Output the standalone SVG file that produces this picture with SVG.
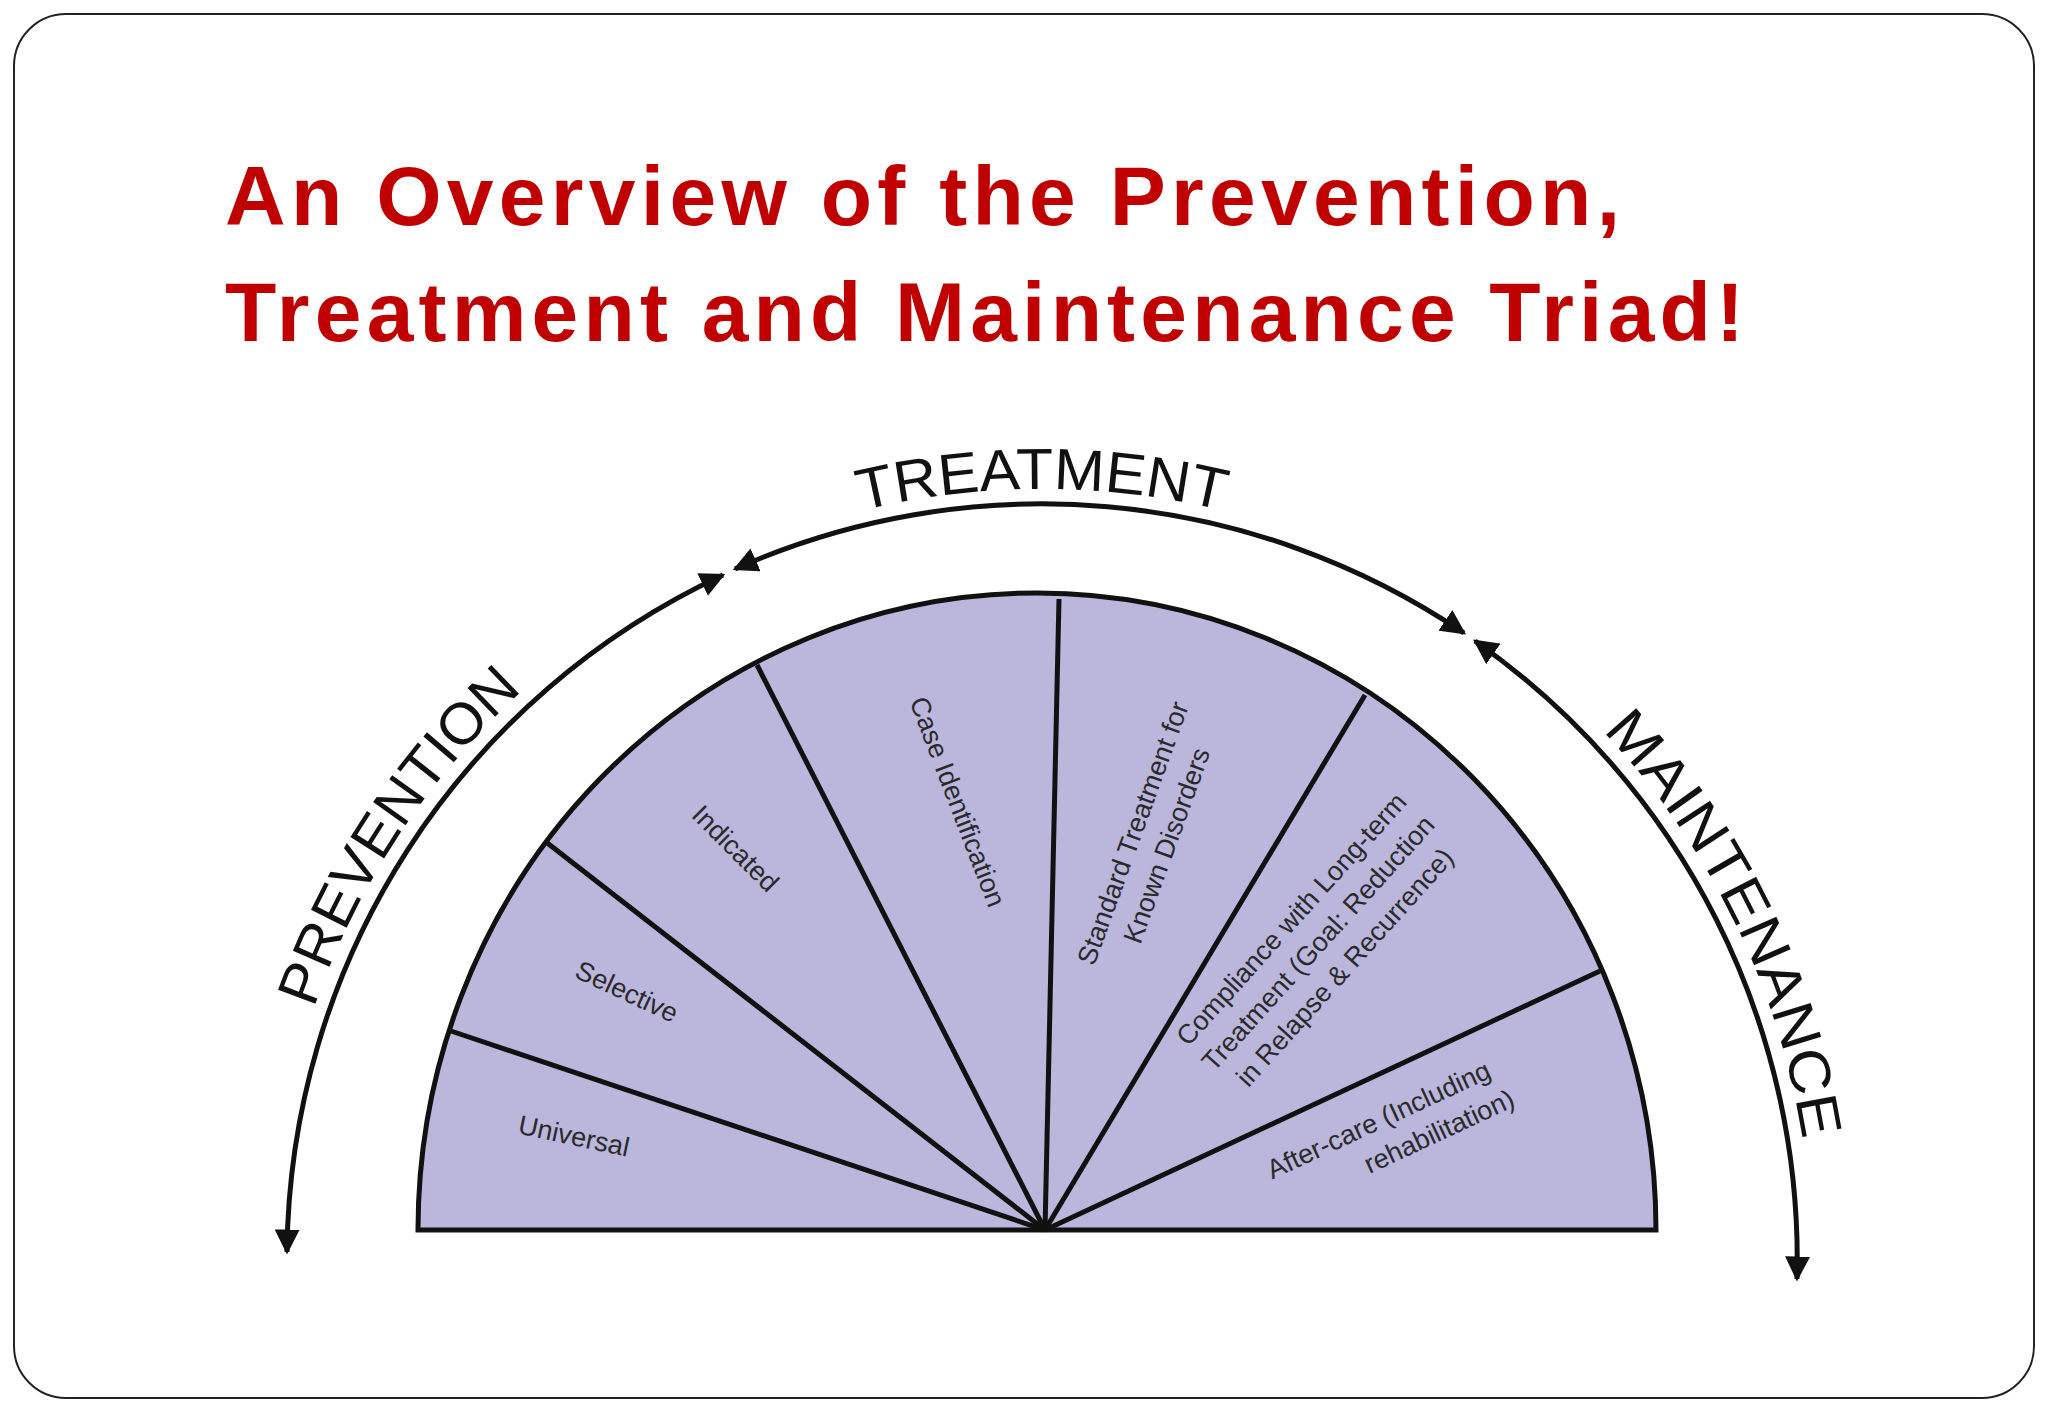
<svg xmlns="http://www.w3.org/2000/svg" width="2048" height="1418" viewBox="0 0 2048 1418">
<style>
.t{font-family:"Liberation Sans",Arial,sans-serif;font-weight:bold;fill:#c00000;font-size:84px}
.arc{fill:none;stroke:#111;stroke-width:5;marker-start:url(#ah);marker-end:url(#ah)}
.big{font-family:"Liberation Sans",Arial,sans-serif;font-size:58px;fill:#111}
.lab{font-family:"Liberation Sans",Arial,sans-serif;font-size:27px;fill:#2a2a2a;text-anchor:middle}
.sp{stroke:#111;stroke-width:5}
</style>
<defs>
<marker id="ah" viewBox="0 0 10 10" refX="9" refY="5" markerWidth="5" markerHeight="5" orient="auto-start-reverse" markerUnits="strokeWidth"><path d="M0,0L10,5L0,10z" fill="#111"/></marker>
<path id="tp" d="M272,1259 A770 770 0 0 1 1812,1259"/>
</defs>
<rect x="14" y="14" width="2020" height="1384" rx="52" fill="#fff" stroke="#222" stroke-width="2"/>
<g id="title">
<text class="t" x="225" y="225" textLength="1395">An Overview of the Prevention,</text>
<text class="t" x="225" y="341" textLength="1519">Treatment and Maintenance Triad!</text>
</g>
<g id="fan">
<path d="M418,1230 A619 637 0 0 1 1656,1230 Z" fill="#bab6dc" stroke="#111" stroke-width="5"/>
<line class="sp" x1="1045" y1="1230" x2="448" y2="1030"/>
<line class="sp" x1="1045" y1="1230" x2="546" y2="842"/>
<line class="sp" x1="1045" y1="1230" x2="757" y2="665"/>
<line class="sp" x1="1045" y1="1230" x2="1059" y2="599"/>
<line class="sp" x1="1045" y1="1230" x2="1365" y2="695"/>
<line class="sp" x1="1045" y1="1230" x2="1600" y2="971"/>
</g>
<g id="labels">
<text class="lab" transform="translate(572,1145) rotate(12)">Universal</text>
<text class="lab" transform="translate(623,1000) rotate(25)">Selective</text>
<text class="lab" transform="translate(729,855) rotate(45)">Indicated</text>
<text class="lab" transform="translate(949,805) rotate(69)">Case Identification</text>
<text class="lab" transform="translate(1149,839) rotate(-70)"><tspan x="0" y="-8">Standard Treatment for</tspan><tspan x="0" y="28">Known Disorders</tspan></text>
<text class="lab" transform="translate(1319,944) rotate(-48)"><tspan x="0" y="-28">Compliance with Long-term</tspan><tspan x="0" y="8">Treatment (Goal: Reduction</tspan><tspan x="0" y="44">in Relapse &amp; Recurrence)</tspan></text>
<text class="lab" transform="translate(1404,1127) rotate(-25)"><tspan x="-20" y="-8">After-care (Including</tspan><tspan x="30" y="28">rehabilitation)</tspan></text>
</g>
<g id="connectors">
<path class="arc" d="M287,1252 A755 755 0 0 1 723,575"/>
<path class="arc" d="M735,569 A755 755 0 0 1 1464,633"/>
<path class="arc" d="M1475,641 A755 755 0 0 1 1797,1279"/>
</g>
<g id="phases">
<text class="big" text-anchor="middle"><textPath href="#tp" startOffset="18.5%" textLength="384" lengthAdjust="spacingAndGlyphs">PREVENTION</textPath></text>
<text class="big" text-anchor="middle"><textPath href="#tp" startOffset="50%" textLength="366" lengthAdjust="spacingAndGlyphs">TREATMENT</textPath></text>
<text class="big" text-anchor="middle"><textPath href="#tp" startOffset="85.5%" textLength="462" lengthAdjust="spacingAndGlyphs">MAINTENANCE</textPath></text>
</g>
</svg>
